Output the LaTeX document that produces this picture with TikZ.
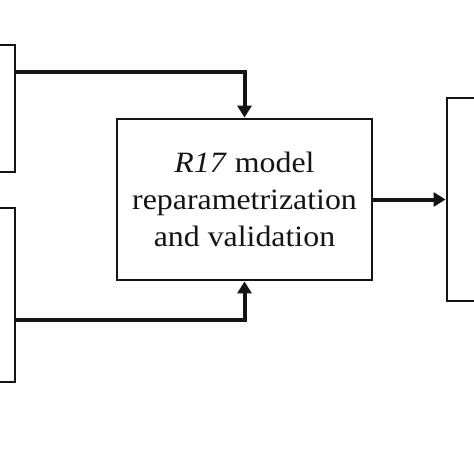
\documentclass[tikz,border=0pt]{standalone}
\usepackage{fontspec}
\setmainfont{Liberation Serif}
\newfontfamily\boxfont[FakeStretch=1.08]{Liberation Serif}
\usepackage{xcolor}
\usetikzlibrary{arrows.meta,positioning}
\definecolor{Ink}{HTML}{141414}
\tikzset{
  block/.style={draw=Ink,line width=2.8pt,fill=white,inner sep=0pt,align=center},
  arrow/.style={-{Triangle[length=12pt,width=14pt]},line width=4pt,draw=Ink},
  boxtext/.style={font=\boxfont\fontsize{29.5}{37}\selectfont,text=Ink}
}

\begin{document}
\begin{tikzpicture}[x=1pt,y=-1pt]
  \useasboundingbox (0,0) rectangle (474,474);
  \clip (0,0) rectangle (474,474);
  % input blocks, cut at the left edge
  \node[block,minimum width=75pt,minimum height=127pt] (inputA) at (-22.5,108.5) {};
  \node[block,minimum width=75pt,minimum height=174pt] (inputB) at (-22.5,295) {};
  % central block
  \node[block,boxtext,minimum width=255pt,minimum height=161pt] (model) at (244.5,199.5)
    {\textit{R17} model\\reparametrization\\and validation};
  % output block, cut at the right edge
  \node[block,minimum width=93pt,minimum height=203pt] (output) at (493.5,199.5) {};
  % connectors
  \draw[arrow] (inputA.east |- 0,72) -| (model.north);
  \draw[arrow] (inputB.east |- 0,320) -| (model.south);
  \draw[arrow] (model.east) -- (output.west);
\end{tikzpicture}
\end{document}
